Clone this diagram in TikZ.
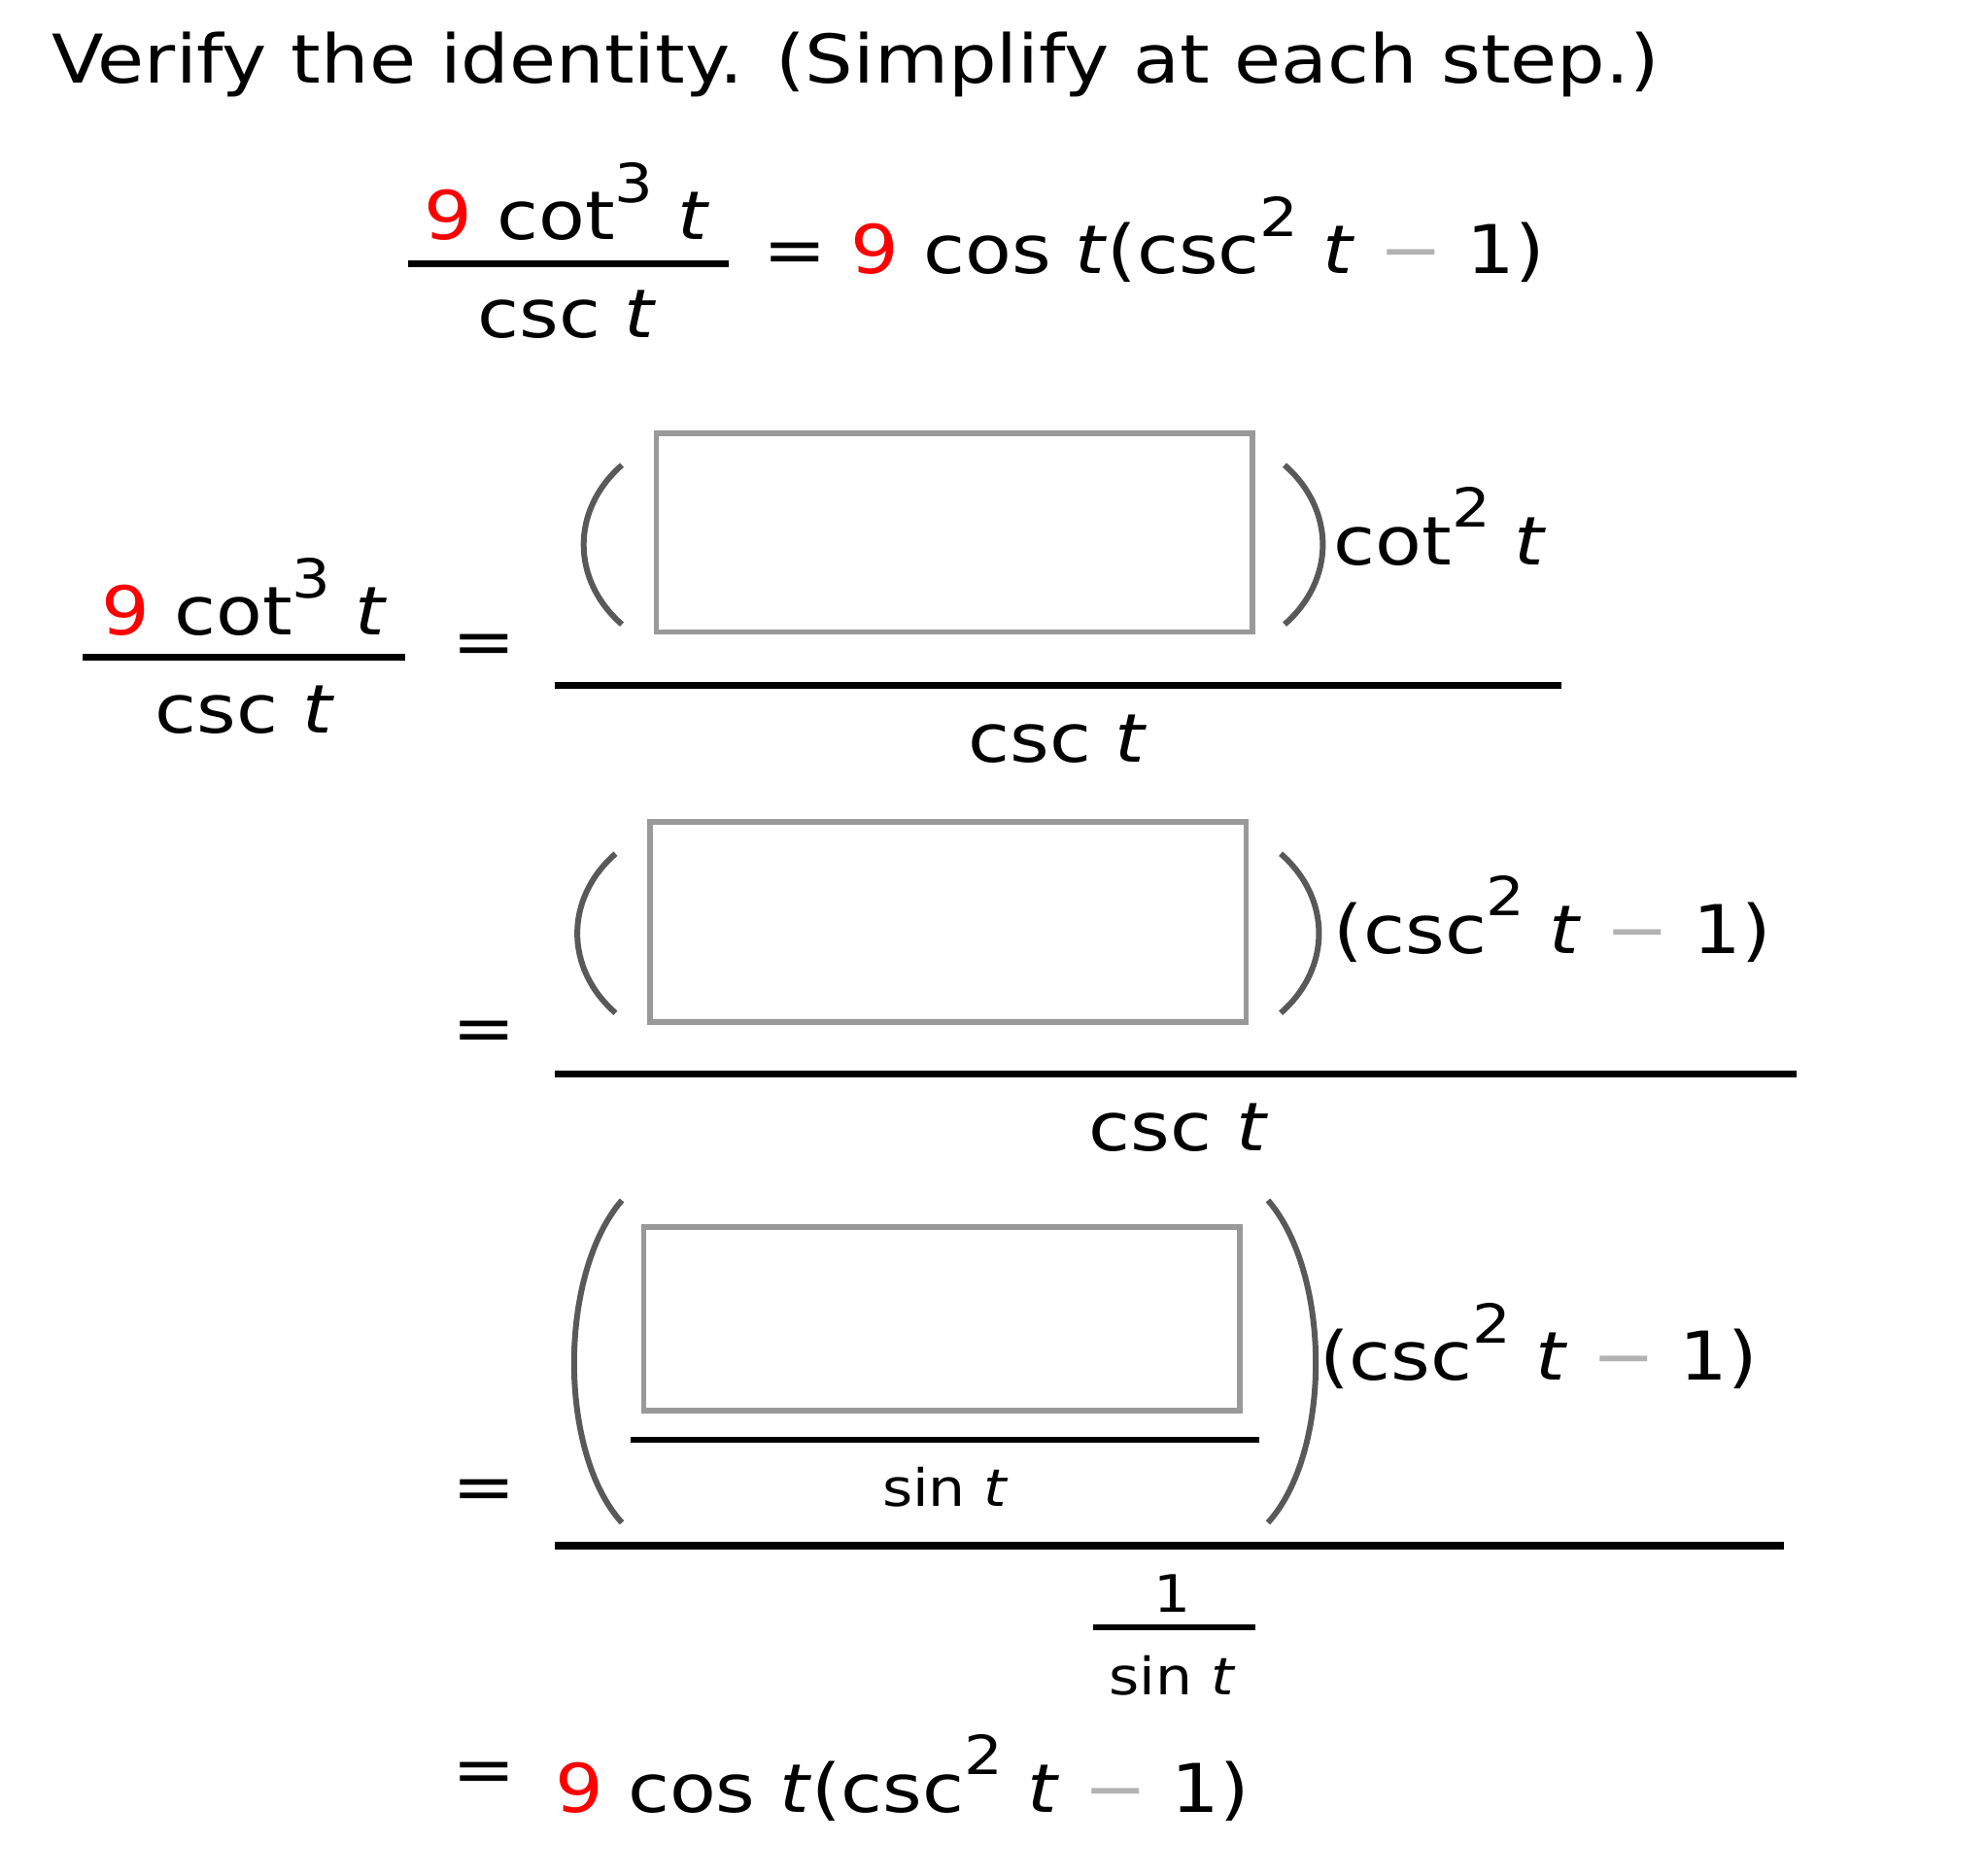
\documentclass[tikz,border=0pt]{standalone}
\usepackage{fontspec}
\setmainfont[FakeStretch=1.13]{DejaVu Sans}
\newcommand{\ti}{\textit{t}}
\newcommand{\mn}{\textcolor{gray!60}{−}}
\newcommand{\nn}{\textcolor{red}{9}}
\newcommand{\sq}[1]{\raisebox{0.55em}{\fontsize{12}{12}\selectfont #1}}
\begin{document}
\begin{tikzpicture}[x=0.01cm,y=-0.01cm,
 txt/.style={inner sep=0pt,font=\fontsize{15}{18}\selectfont},
 sm/.style={inner sep=0pt,font=\fontsize{11.5}{14}\selectfont},
 bar/.style={line width=1.6pt},
 inbox/.style={draw=gray!80,line width=1.2pt},
 par/.style={draw=gray!70!black,line width=1.3pt}]
\useasboundingbox (0,0) rectangle (1560,1472);
\node[txt,anchor=base west] (title) at (40,65) {Verify the identity. (Simplify at each step.)};
% line 1
\node[txt,anchor=base] (n1) at (445,188) {\nn\ cot\sq{3} \ti};
\draw[bar] (320,207) -- (572,207);
\node[txt,anchor=base] (d1) at (445,265) {csc \ti};
\node[txt,anchor=base west] (r1) at (598,215) {= \nn\ cos \ti(csc\sq{2} \ti\ \mn\ 1)};
% line 2
\node[txt,anchor=base] (n2) at (192,498) {\nn\ cot\sq{3} \ti};
\draw[bar] (65,516) -- (318,516);
\node[txt,anchor=base] (d2) at (192,575) {csc \ti};
\node[txt] (e2) at (380,510) {=};
\draw[par] (488,365) .. controls (448,400) and (448,455) .. (488,490);
\draw[inbox] (515,340) rectangle (983,496);
\draw[par] (1008,365) .. controls (1048,400) and (1048,455) .. (1008,490);
\node[txt,anchor=base west] (c2) at (1046,443) {cot\sq{2} \ti};
\draw[bar] (435,538) -- (1225,538);
\node[txt,anchor=base] (s2) at (830,598) {csc \ti};
% line 3
\node[txt] (e3) at (380,813) {=};
\draw[par] (483,670) .. controls (443,705) and (443,760) .. (483,795);
\draw[inbox] (510,645) rectangle (978,802);
\draw[par] (1005,670) .. controls (1045,705) and (1045,760) .. (1005,795);
\node[txt,anchor=base west] (c3) at (1046,748) {(csc\sq{2} \ti\ \mn\ 1)};
\draw[bar] (435,843) -- (1410,843);
\node[txt,anchor=base] (s3) at (925,903) {csc \ti};
% line 4
\node[txt] (e4) at (380,1173) {=};
\draw[par] (488,942) .. controls (438,1000) and (438,1140) .. (488,1195);
\draw[inbox] (505,963) rectangle (973,1107);
\draw[bar,line width=1.3pt] (495,1130) -- (988,1130);
\node[sm,anchor=base] (s4) at (742,1182) {sin \ti};
\draw[par] (995,942) .. controls (1045,1000) and (1045,1140) .. (995,1195);
\node[txt,anchor=base west] (c4) at (1035,1083) {(csc\sq{2} \ti\ \mn\ 1)};
\draw[bar] (435,1213) -- (1400,1213);
\node[sm,anchor=base] (o4) at (920,1265) {1};
\draw[bar,line width=1.3pt] (858,1277) -- (985,1277);
\node[sm,anchor=base] (t4) at (920,1330) {sin \ti};
% line 5
\node[txt] (e5) at (380,1395) {=};
\node[txt,anchor=base west] (r5) at (435,1422) {\nn\ cos \ti(csc\sq{2} \ti\ \mn\ 1)};
\end{tikzpicture}
\end{document}
